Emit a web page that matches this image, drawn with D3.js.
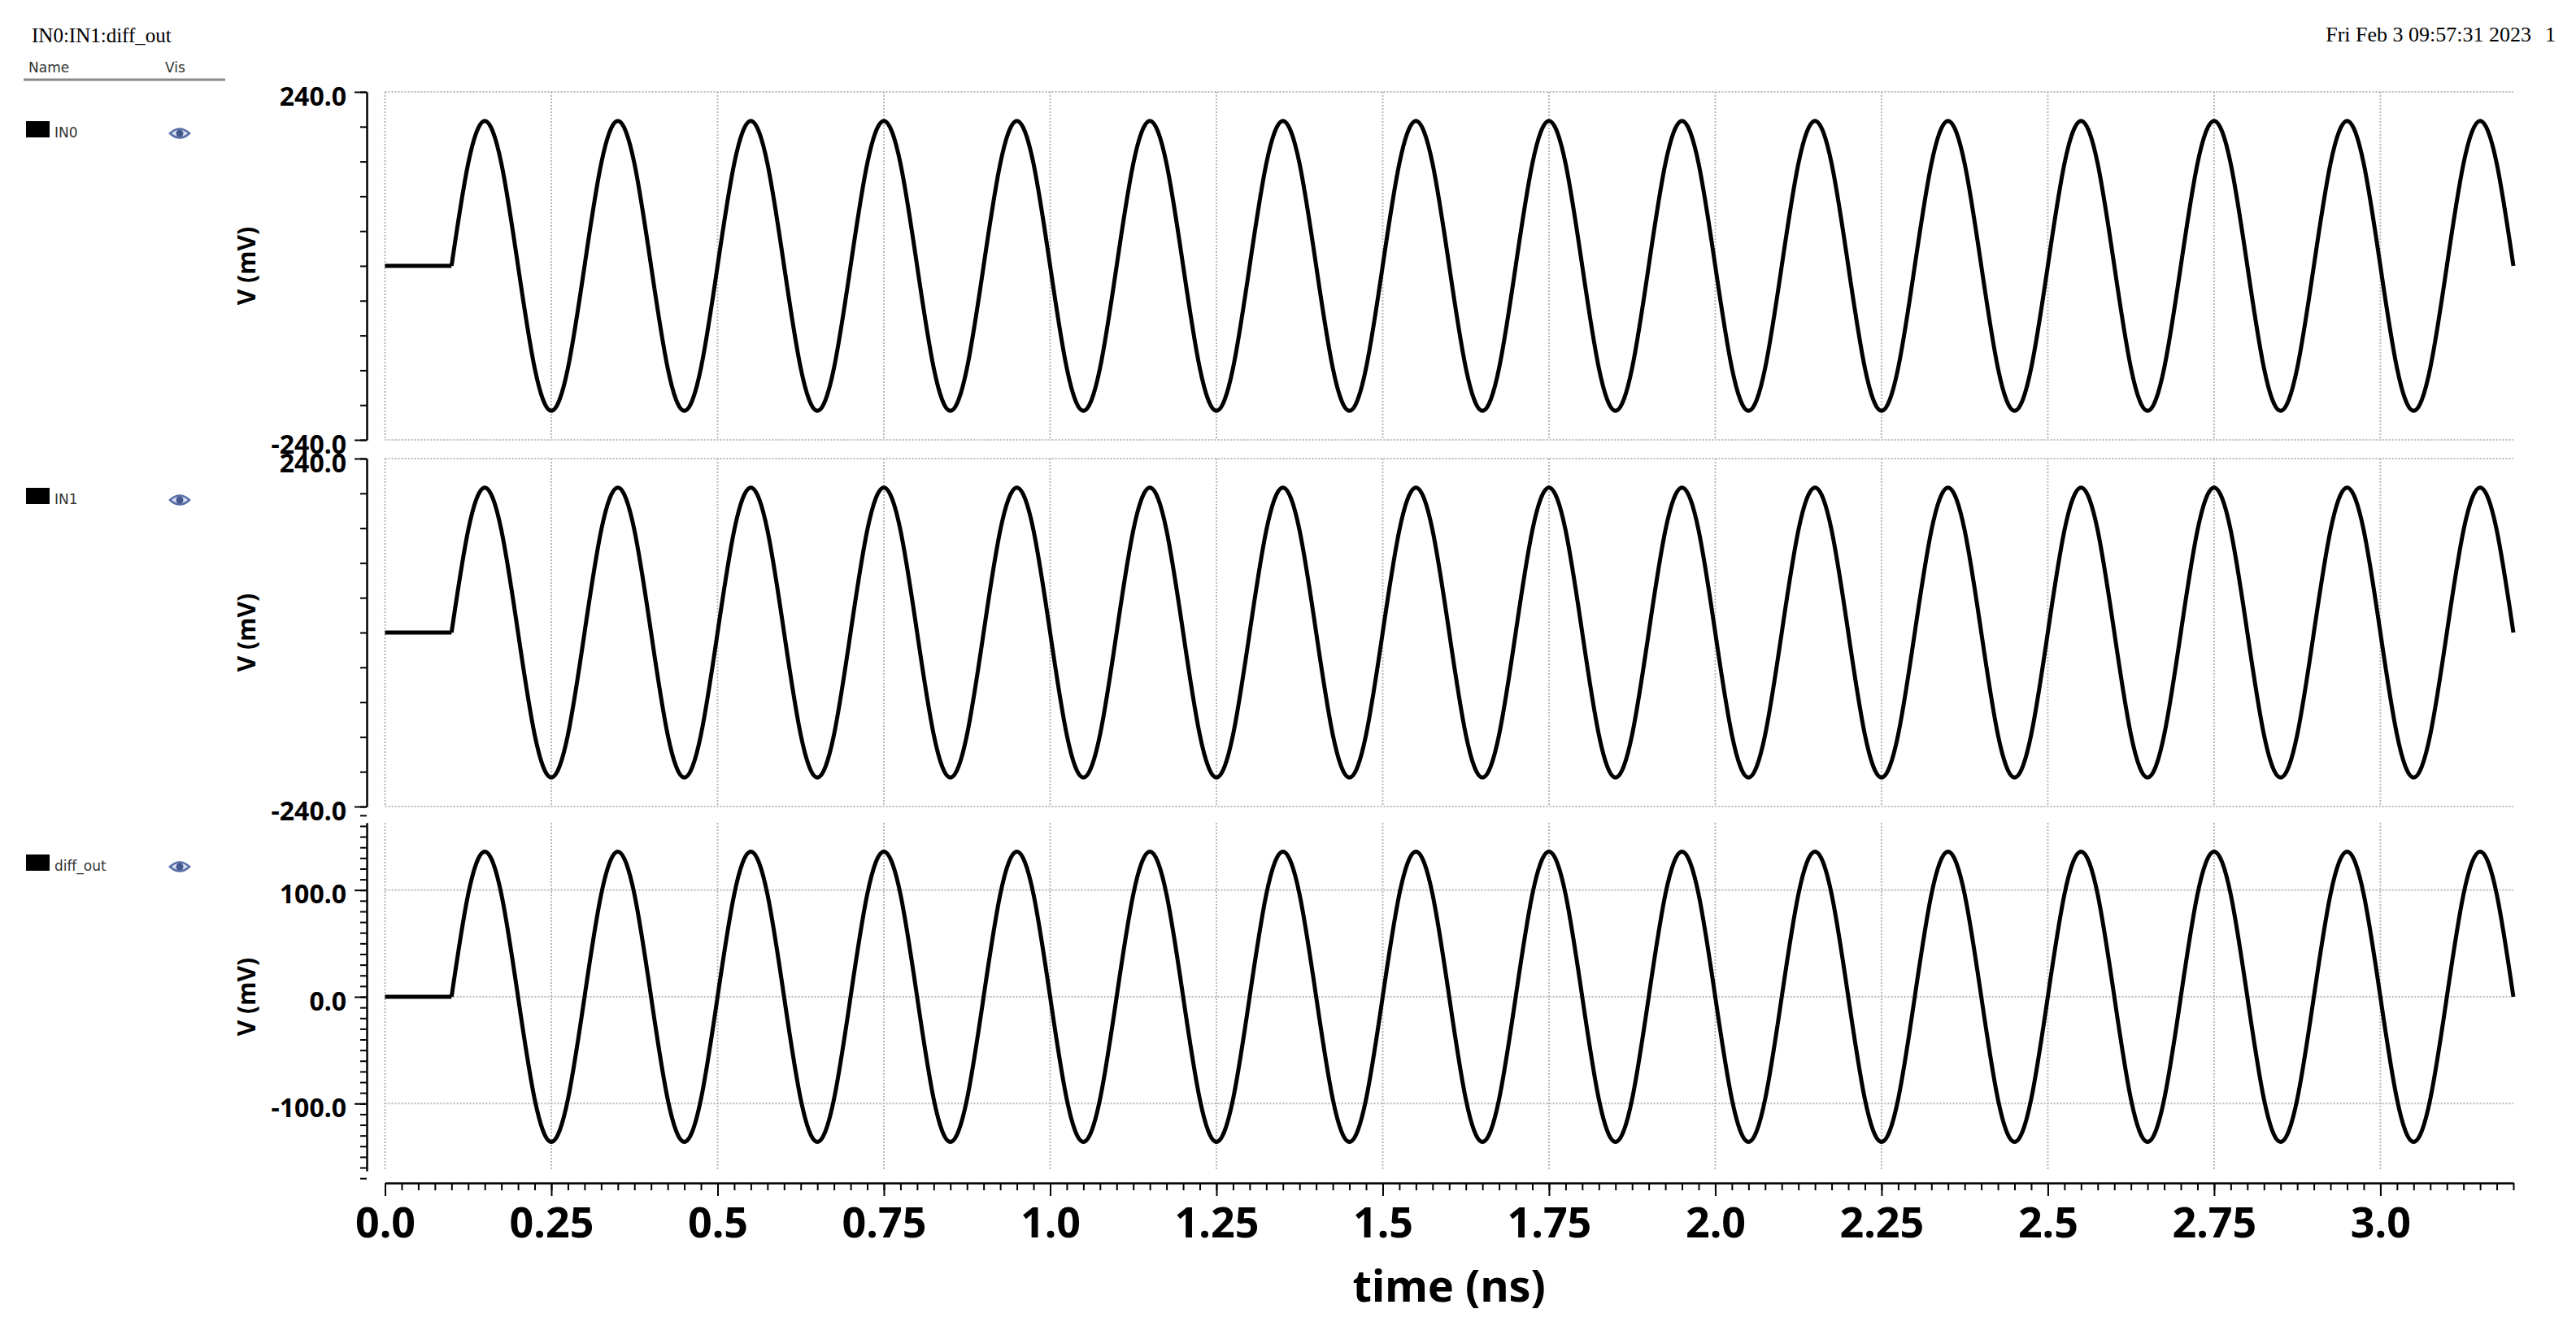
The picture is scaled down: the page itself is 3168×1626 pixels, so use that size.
<!DOCTYPE html>
<html>
<head>
<meta charset="utf-8">
<script src="https://cdn.jsdelivr.net/npm/d3@7"></script>
<style>
body { margin: 0; background: #fff; }
</style>
</head>
<body>
<script>
var svgWidth = 3168;
var svgHeight = 1626;

// sample times (ns), one row per 0.2 ns period
var timeNs = [
    0, 0.025, 0.05, 0.075, 0.1, 0.125, 0.15, 0.175,
    0.2, 0.225, 0.25, 0.275, 0.3, 0.325, 0.35, 0.375,
    0.4, 0.425, 0.45, 0.475, 0.5, 0.525, 0.55, 0.575,
    0.6, 0.625, 0.65, 0.675, 0.7, 0.725, 0.75, 0.775,
    0.8, 0.825, 0.85, 0.875, 0.9, 0.925, 0.95, 0.975,
    1.0, 1.025, 1.05, 1.075, 1.1, 1.125, 1.15, 1.175,
    1.2, 1.225, 1.25, 1.275, 1.3, 1.325, 1.35, 1.375,
    1.4, 1.425, 1.45, 1.475, 1.5, 1.525, 1.55, 1.575,
    1.6, 1.625, 1.65, 1.675, 1.7, 1.725, 1.75, 1.775,
    1.8, 1.825, 1.85, 1.875, 1.9, 1.925, 1.95, 1.975,
    2.0, 2.025, 2.05, 2.075, 2.1, 2.125, 2.15, 2.175,
    2.2, 2.225, 2.25, 2.275, 2.3, 2.325, 2.35, 2.375,
    2.4, 2.425, 2.45, 2.475, 2.5, 2.525, 2.55, 2.575,
    2.6, 2.625, 2.65, 2.675, 2.7, 2.725, 2.75, 2.775,
    2.8, 2.825, 2.85, 2.875, 2.9, 2.925, 2.95, 2.975,
    3.0, 3.025, 3.05, 3.075, 3.1, 3.125, 3.15, 3.175,
    3.2
];

// V (mV)
var in0 = [
    0, 0, 0, 0, 0, 141, 200, 141,
    0, -141, -200, -141, 0, 141, 200, 141,
    0, -141, -200, -141, 0, 141, 200, 141,
    0, -141, -200, -141, 0, 141, 200, 141,
    0, -141, -200, -141, 0, 141, 200, 141,
    0, -141, -200, -141, 0, 141, 200, 141,
    0, -141, -200, -141, 0, 141, 200, 141,
    0, -141, -200, -141, 0, 141, 200, 141,
    0, -141, -200, -141, 0, 141, 200, 141,
    0, -141, -200, -141, 0, 141, 200, 141,
    0, -141, -200, -141, 0, 141, 200, 141,
    0, -141, -200, -141, 0, 141, 200, 141,
    0, -141, -200, -141, 0, 141, 200, 141,
    0, -141, -200, -141, 0, 141, 200, 141,
    0, -141, -200, -141, 0, 141, 200, 141,
    0, -141, -200, -141, 0, 141, 200, 141,
    0
];
var in1 = [
    0, 0, 0, 0, 0, 141, 200, 141,
    0, -141, -200, -141, 0, 141, 200, 141,
    0, -141, -200, -141, 0, 141, 200, 141,
    0, -141, -200, -141, 0, 141, 200, 141,
    0, -141, -200, -141, 0, 141, 200, 141,
    0, -141, -200, -141, 0, 141, 200, 141,
    0, -141, -200, -141, 0, 141, 200, 141,
    0, -141, -200, -141, 0, 141, 200, 141,
    0, -141, -200, -141, 0, 141, 200, 141,
    0, -141, -200, -141, 0, 141, 200, 141,
    0, -141, -200, -141, 0, 141, 200, 141,
    0, -141, -200, -141, 0, 141, 200, 141,
    0, -141, -200, -141, 0, 141, 200, 141,
    0, -141, -200, -141, 0, 141, 200, 141,
    0, -141, -200, -141, 0, 141, 200, 141,
    0, -141, -200, -141, 0, 141, 200, 141,
    0
];
var diffOut = [
    0, 0, 0, 0, 0, 96, 136, 96,
    0, -96, -136, -96, 0, 96, 136, 96,
    0, -96, -136, -96, 0, 96, 136, 96,
    0, -96, -136, -96, 0, 96, 136, 96,
    0, -96, -136, -96, 0, 96, 136, 96,
    0, -96, -136, -96, 0, 96, 136, 96,
    0, -96, -136, -96, 0, 96, 136, 96,
    0, -96, -136, -96, 0, 96, 136, 96,
    0, -96, -136, -96, 0, 96, 136, 96,
    0, -96, -136, -96, 0, 96, 136, 96,
    0, -96, -136, -96, 0, 96, 136, 96,
    0, -96, -136, -96, 0, 96, 136, 96,
    0, -96, -136, -96, 0, 96, 136, 96,
    0, -96, -136, -96, 0, 96, 136, 96,
    0, -96, -136, -96, 0, 96, 136, 96,
    0, -96, -136, -96, 0, 96, 136, 96,
    0
];

var signalNames = ["IN0", "IN1", "diff_out"];
var signalValues = [in0, in1, diffOut];
var yDomains = [[-240, 240], [-240, 240], [-163, 163]];
var yMajorTicks = [[-240, 240], [-240, 240], [-100, 0, 100]];
var yMajorLabels = [["-240.0", "240.0"], ["-240.0", "240.0"], ["-100.0", "0.0", "100.0"]];
var yMinorStep = [48, 48, 10];
var yMinorExtent = [240, 240, 170];

var xTickValues = [0, 0.25, 0.5, 0.75, 1.0, 1.25, 1.5, 1.75, 2.0, 2.25, 2.5, 2.75, 3.0];
var xTickLabels = ["0.0", "0.25", "0.5", "0.75", "1.0", "1.25", "1.5", "1.75", "2.0", "2.25", "2.5", "2.75", "3.0"];

var titleText = "IN0:IN1:diff_out";
var dateText = "Fri Feb 3 09:57:31 2023";
var pageText = "1";

// layout
var plotLeft = 473.5;
var plotRight = 3091;
var axisX = 451;
var panelTops = [113, 564, 1012];
var panelHeight = 428;
var xAxisY = 1455;
var legendTops = [149, 600, 1051];

var svg = d3.select("body")
    .append("svg")
    .attr("width", svgWidth)
    .attr("height", svgHeight);

var x = d3.scaleLinear().domain([0, 3.2]).range([plotLeft, plotRight]);

// header
svg.append("text")
    .attr("x", 39).attr("y", 52)
    .attr("font-family", "Liberation Serif")
    .attr("font-size", 25)
    .text(titleText);
svg.append("text")
    .attr("x", 3113).attr("y", 51)
    .attr("text-anchor", "end")
    .attr("font-family", "Liberation Serif")
    .attr("font-size", 26)
    .text(dateText);
svg.append("text")
    .attr("x", 3143).attr("y", 51)
    .attr("text-anchor", "end")
    .attr("font-family", "Liberation Serif")
    .attr("font-size", 26)
    .text(pageText);

svg.append("text").attr("x", 35).attr("y", 89)
    .attr("font-family", "DejaVu Sans").attr("font-size", 17).attr("fill", "#333")
    .text("Name");
svg.append("text").attr("x", 203).attr("y", 89)
    .attr("font-family", "DejaVu Sans").attr("font-size", 17).attr("fill", "#333")
    .text("Vis");
svg.append("line")
    .attr("x1", 29).attr("x2", 277).attr("y1", 98).attr("y2", 98)
    .attr("stroke", "#8a8a8a").attr("stroke-width", 3);

signalNames.forEach(function (name, i) {
    var top = panelTops[i];
    var y = d3.scaleLinear().domain(yDomains[i]).range([top + panelHeight, top]);

    var g = svg.append("g");

    // dotted grid
    g.selectAll(".vgrid")
        .data(xTickValues)
        .enter()
        .append("line")
        .attr("x1", function (d) { return x(d); })
        .attr("x2", function (d) { return x(d); })
        .attr("y1", top)
        .attr("y2", top + panelHeight)
        .attr("stroke", "#b8b8b8")
        .attr("stroke-width", 2)
        .attr("stroke-dasharray", "2,2");
    g.selectAll(".hgrid")
        .data(yMajorTicks[i])
        .enter()
        .append("line")
        .attr("x1", plotLeft)
        .attr("x2", plotRight)
        .attr("y1", function (d) { return y(d); })
        .attr("y2", function (d) { return y(d); })
        .attr("stroke", "#b8b8b8")
        .attr("stroke-width", 2)
        .attr("stroke-dasharray", "2,2");

    // y axis, minor then major
    var minor = d3.range(-yMinorExtent[i], yMinorExtent[i] + 0.001, yMinorStep[i]);
    var minorAxis = g.append("g")
        .attr("transform", "translate(" + axisX + ",0)")
        .call(d3.axisLeft(y).tickValues(minor).tickSize(8).tickSizeOuter(0).tickFormat(""));
    var majorAxis = g.append("g")
        .attr("transform", "translate(" + axisX + ",0)")
        .call(d3.axisLeft(y).tickValues(yMajorTicks[i]).tickSize(15).tickSizeOuter(0).tickPadding(10)
            .tickFormat(function (d, k) { return yMajorLabels[i][k]; }));
    [minorAxis, majorAxis].forEach(function (a) {
        a.selectAll("path, line").attr("stroke", "#000").attr("stroke-width", 2);
    });
    majorAxis.selectAll("text")
        .attr("dy", "0.5em")
        .attr("font-family", "Noto Sans")
        .attr("font-weight", "bold")
        .attr("font-size", 32)
        .attr("fill", "#000");

    g.append("text")
        .attr("transform", "translate(314," + (top + panelHeight / 2) + ") rotate(-90)")
        .attr("text-anchor", "middle")
        .attr("font-family", "Noto Sans")
        .attr("font-weight", "bold")
        .attr("font-size", 30)
        .text("V (mV)");

    // waveform: flat until the source starts, then the sine
    var pts = timeNs.map(function (t, k) { return { t: t, v: signalValues[i][k] }; });
    g.append("path")
        .datum(pts.filter(function (d) { return d.t <= 0.1; }))
        .attr("d", d3.line()
            .x(function (d) { return x(d.t); })
            .y(function (d) { return y(d.v); }))
        .attr("fill", "none")
        .attr("stroke", "#000")
        .attr("stroke-width", 5);
    g.append("path")
        .datum(pts.filter(function (d) { return d.t >= 0.1; }))
        .attr("d", d3.line()
            .x(function (d) { return x(d.t); })
            .y(function (d) { return y(d.v); })
            .curve(d3.curveNatural))
        .attr("fill", "none")
        .attr("stroke", "#000")
        .attr("stroke-width", 5)
        .attr("stroke-linejoin", "round");

    // legend row
    var ly = legendTops[i];
    svg.append("rect")
        .attr("x", 32).attr("y", ly)
        .attr("width", 29).attr("height", 20)
        .attr("fill", "#000");
    svg.append("text")
        .attr("x", 67).attr("y", ly + 20)
        .attr("font-family", "DejaVu Sans")
        .attr("font-size", 17)
        .attr("fill", "#333")
        .text(name);
    var eye = svg.append("g").attr("transform", "translate(221," + (ly + 15) + ")");
    eye.append("path")
        .attr("d", "M-12,0 Q0,-11 12,0 Q0,11 -12,0 Z")
        .attr("fill", "#d9e0f0")
        .attr("stroke", "#5a6fa8")
        .attr("stroke-width", 2.5);
    eye.append("circle").attr("r", 4.5).attr("fill", "#44598f");
});

// time axis
var xMinor = d3.range(0, 3.2001, 0.025);
var xMinorAxis = svg.append("g")
    .attr("transform", "translate(0," + xAxisY + ")")
    .call(d3.axisBottom(x).tickValues(xMinor).tickSize(9).tickSizeOuter(0).tickFormat(""));
var xMajorAxis = svg.append("g")
    .attr("transform", "translate(0," + xAxisY + ")")
    .call(d3.axisBottom(x).tickValues(xTickValues).tickSize(16).tickSizeOuter(0).tickPadding(14)
        .tickFormat(function (d, k) { return xTickLabels[k]; }));
[xMinorAxis, xMajorAxis].forEach(function (a) {
    a.selectAll("path, line").attr("stroke", "#000").attr("stroke-width", 2);
});
xMajorAxis.selectAll("text")
    .attr("dy", "0.71em")
    .attr("font-family", "Noto Sans")
    .attr("font-weight", "bold")
    .attr("font-size", 52)
    .attr("fill", "#000");

svg.append("text")
    .attr("x", (plotLeft + plotRight) / 2)
    .attr("y", 1601)
    .attr("text-anchor", "middle")
    .attr("font-family", "Noto Sans")
    .attr("font-weight", "bold")
    .attr("font-size", 54)
    .text("time (ns)");
</script>
</body>
</html>
